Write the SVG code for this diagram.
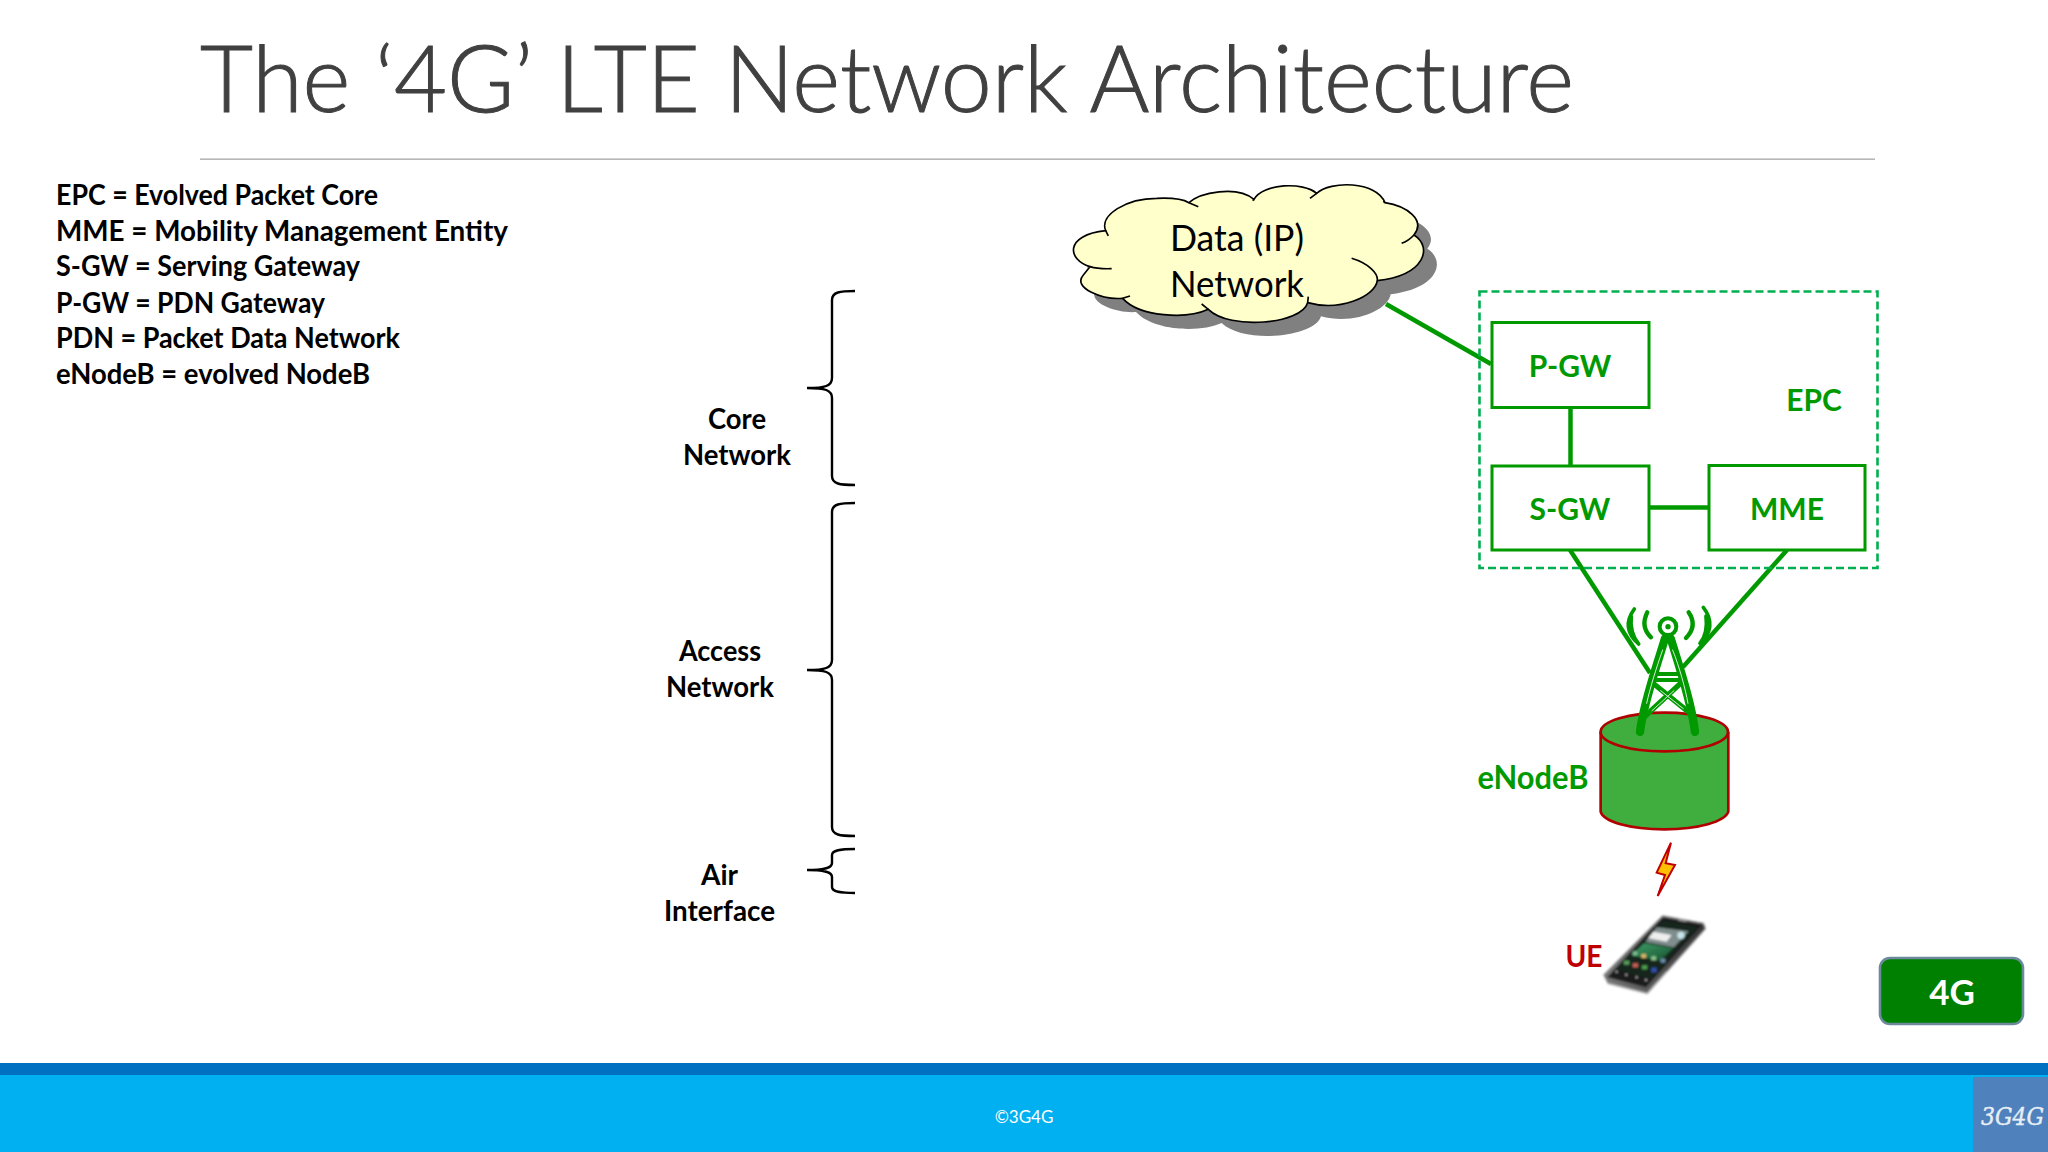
<svg xmlns="http://www.w3.org/2000/svg" width="2048" height="1152" viewBox="0 0 2048 1152">
<style>
text{font-family:"Lato","Open Sans","Liberation Sans",sans-serif}
.k{font-weight:700;font-size:29px;fill:#000}
.g{font-weight:700;font-size:30px;fill:#009a00;text-anchor:middle}
.box{fill:#fff;stroke:#009a00;stroke-width:3}
.c{fill:none;stroke:#009a00;stroke-width:4.5}
.br{fill:none;stroke:#000;stroke-width:2.4}
.tw{fill:none;stroke:#009a00;stroke-linecap:round}
.wl{fill:none;stroke:#fff;stroke-width:2.5}
.ic{stroke:none}
</style>
<defs>
<path id="cloud" d="M197,212 C177,165 260,115 350,115 C395,113 430,118 447,128 C480,98 590,75 642,118 C670,70 790,65 830,100 C870,62 1010,62 1035,128 C1100,138 1158,180 1122,225 C1178,260 1158,345 1012,362 C1005,410 900,455 803,428 C785,492 570,512 505,448 C440,478 300,472 248,415 C190,420 95,385 130,345 L150,320 C82,300 72,225 197,212Z"/>
<linearGradient id="band" x1="0" y1="0" x2="1" y2="1"><stop offset="0" stop-color="#3fa06a"/><stop offset="1" stop-color="#174f2e"/></linearGradient>
<linearGradient id="edge" x1="0" y1="0" x2="1" y2="0"><stop offset="0" stop-color="#777"/><stop offset="1" stop-color="#333"/></linearGradient>
<filter id="soft" x="-5%" y="-5%" width="110%" height="110%"><feGaussianBlur stdDeviation="2.4"/></filter>
</defs>
<rect width="2048" height="1152" fill="#fff"/>
<text id="title" x="200" y="112" font-size="92" font-weight="300" fill="#404040" stroke="#404040" stroke-width="1" textLength="1374" lengthAdjust="spacingAndGlyphs">The ‘4G’ LTE Network Architecture</text>
<rect x="200" y="158.5" width="1675" height="1.3" fill="#a6a6a6"/>
<g id="legend">
<text class="k" x="56" y="205" textLength="322" lengthAdjust="spacingAndGlyphs">EPC = Evolved Packet Core</text>
<text class="k" x="56" y="241" textLength="452" lengthAdjust="spacingAndGlyphs">MME = Mobility Management Entity</text>
<text class="k" x="56" y="276" textLength="304" lengthAdjust="spacingAndGlyphs">S-GW = Serving Gateway</text>
<text class="k" x="56" y="313" textLength="269" lengthAdjust="spacingAndGlyphs">P-GW = PDN Gateway</text>
<text class="k" x="56" y="348" textLength="344" lengthAdjust="spacingAndGlyphs">PDN = Packet Data Network</text>
<text class="k" x="56" y="384" textLength="314" lengthAdjust="spacingAndGlyphs">eNodeB = evolved NodeB</text>
</g>
<g id="brace-core">
<path class="br" d="M855,291 C840,291 832,292 832,300 V378 C832,386 825,388 807,388 C825,388 832,390 832,398 V476 C832,484 840,485 855,485"/>
<text class="k" x="708" y="429" textLength="58" lengthAdjust="spacingAndGlyphs">Core</text>
<text class="k" x="683" y="465" textLength="108" lengthAdjust="spacingAndGlyphs">Network</text>
</g>
<g id="brace-access">
<path class="br" d="M855,503 C840,503 832,504 832,512 V660 C832,668 825,670 807,670 C825,670 832,672 832,680 V827 C832,835 840,836 855,836"/>
<text class="k" x="679" y="661" textLength="82" lengthAdjust="spacingAndGlyphs">Access</text>
<text class="k" x="666" y="697" textLength="108" lengthAdjust="spacingAndGlyphs">Network</text>
</g>
<g id="brace-air">
<path class="br" d="M855,849 C840,849 832,850 832,855 V863 C832,868 825,870 807,870 C825,870 832,872 832,877 V887 C832,892 840,893 855,893"/>
<text class="k" x="701" y="885" textLength="37" lengthAdjust="spacingAndGlyphs">Air</text>
<text class="k" x="664" y="921" textLength="111" lengthAdjust="spacingAndGlyphs">Interface</text>
</g>
<g id="connectors">
<path class="c" d="M1386,304 L1491,364"/>
<path class="c" d="M1570.5,407 V466"/>
<path class="c" d="M1649,507.5 H1708"/>
<path class="c" d="M1570,550 L1650,673"/>
<path class="c" d="M1787,550 L1683,667"/>
</g>
<g id="cloud-node">
<g transform="translate(1040,160) scale(.3333)">
<use href="#cloud" transform="translate(40,41)" fill="#808080"/>
<use href="#cloud" fill="#ffffcc" stroke="#000" stroke-width="5"/>
<path fill="none" stroke="#000" stroke-width="5" d="M447,128 L475,140 M642,118 L638,122 M830,100 L810,115 M1035,128 L1030,124 M1122,225 C1110,238 1100,245 1085,250 M1012,362 C1015,340 985,310 935,295 M803,428 L805,410 M505,448 L485,432 M248,415 L270,408 M150,320 C170,326 190,327 215,326 M197,212 L205,228"/>
</g>
<text x="1237" y="251" font-size="36" text-anchor="middle" fill="#000" textLength="134" lengthAdjust="spacingAndGlyphs">Data (IP)</text>
<text x="1237" y="297" font-size="36" text-anchor="middle" fill="#000" textLength="134" lengthAdjust="spacingAndGlyphs">Network</text>
</g>
<g id="epc">
<rect x="1479.5" y="291.5" width="398" height="276.5" fill="none" stroke="#00b050" stroke-width="2.6" stroke-dasharray="8 4"/>
<text class="g" x="1814" y="411">EPC</text>
</g>
<g id="pgw"><rect class="box" x="1492" y="322.5" width="157" height="85"/><text class="g" x="1570" y="377">P-GW</text></g>
<g id="sgw"><rect class="box" x="1492" y="466" width="157" height="84"/><text class="g" x="1570" y="520">S-GW</text></g>
<g id="mme"><rect class="box" x="1709" y="465.5" width="156" height="84.5"/><text class="g" x="1787" y="520">MME</text></g>
<g id="enodeb">
<g transform="translate(1450,560) scale(.3333)">
<path d="M452,515 V755 C460,785 540,808 643,808 C745,808 825,785 835,755 V515" fill="#3fae3f" stroke="#b00000" stroke-width="8"/>
<ellipse cx="643" cy="516" rx="191" ry="58" fill="#3fae3f" stroke="#b00000" stroke-width="8"/>
<g class="tw">
<path stroke-width="16" d="M612,372 L718,458 M694,368 L586,468"/>
<path class="wl" d="M632,392 L700,446 M672,392 L606,452"/>
<path stroke-width="12" d="M608,342 H698 M606,360 H700"/>
<path class="wl" d="M622,351 H686"/>
<path stroke-width="25" d="M570,516 C580,430 620,320 645,235"/>
<path stroke-width="25" d="M735,516 C725,430 688,320 662,235"/>
<path class="wl" d="M590,430 C600,385 620,320 638,270"/>
<path class="wl" d="M714,430 C706,385 688,320 668,270"/>
<circle cx="654" cy="200" r="25" stroke-width="12" fill="#fff"/>
<circle cx="654" cy="200" r="8" fill="#009a00" stroke-width="0"/>
<path stroke-width="13" d="M592,157 C578,185 580,210 603,232 M716,157 C735,185 730,212 708,234"/>
<path stroke-width="11" d="M553,147 C525,185 530,220 566,252 M544,170 C540,200 548,232 566,252 M760,142 C790,180 785,220 750,250 M768,168 C772,200 765,232 750,250"/>
</g>
</g>
<text class="g" x="1533" y="789" style="font-size:32px" textLength="111" lengthAdjust="spacingAndGlyphs">eNodeB</text>
</g>
<g id="ue">
<g transform="translate(1500,830) scale(.3333)">
<polygon points="513,38 470,128 495,135 473,198 525,105 497,100" fill="#ffc000" stroke="#c00000" stroke-width="6"/>
<g filter="url(#soft)">
<polygon points="488,258 610,280 616,296 442,490 325,460 312,435" fill="url(#edge)" stroke="#8a8a8a" stroke-width="4" stroke-linejoin="round"/>
<polygon points="490,262 606,284 438,472 322,442" fill="#1a1a1a"/>
<polygon points="492,272 590,292 452,448 345,418" fill="#14261b"/>
<polygon points="470,292 566,304 522,352 436,336" fill="#7f8d8c"/>
<polygon points="460,305 515,315 500,335 445,325" fill="#eeeeee"/>
<circle cx="543" cy="316" r="11" fill="#c6e4ea"/>
<polygon points="432,340 520,354 480,392 394,376" fill="url(#band)"/>
<g class="ic">
<rect x="398" y="364" width="14" height="12" fill="#7fbf8f"/>
<rect x="424" y="372" width="14" height="12" fill="#d9b86a"/>
<rect x="454" y="379" width="14" height="12" fill="#8fc98f"/>
<rect x="482" y="386" width="14" height="12" fill="#6f8fb0"/>
<rect x="372" y="392" width="16" height="12" fill="#5aa05a"/>
<rect x="398" y="400" width="16" height="12" fill="#c9605a"/>
<rect x="426" y="406" width="16" height="12" fill="#4fa04f"/>
<rect x="454" y="413" width="16" height="14" fill="#3050b0"/>
<g fill="#ccc"><circle cx="350" cy="425" r="3"/><circle cx="379" cy="434" r="3"/><circle cx="410" cy="442" r="3"/><circle cx="438" cy="450" r="3"/></g>
</g>
<path d="M325,460 L442,490 L500,425" fill="none" stroke="#b0b0b0" stroke-width="4"/>
<rect x="535" y="268" width="24" height="6" fill="#999" transform="rotate(10 547 271)"/>
</g>
</g>
<text x="1584" y="967" font-size="31" font-weight="700" fill="#c00000" text-anchor="middle" textLength="37" lengthAdjust="spacingAndGlyphs">UE</text>
</g>
<g id="badge-4g">
<rect x="1880" y="958" width="143" height="66" rx="10" fill="#008000" stroke="#6d8a9c" stroke-width="2.6"/>
<text x="1952" y="1005" font-size="35" font-weight="700" fill="#fff" text-anchor="middle">4G</text>
</g>
<g id="footer">
<rect y="1063" width="2048" height="12" fill="#0070c0"/>
<rect y="1075" width="2048" height="77" fill="#00b0f0"/>
<rect x="1973" y="1077" width="75" height="75" fill="#4f81bd"/>
<text x="1024" y="1122.5" font-size="17" fill="#fff" text-anchor="middle">©3G4G</text>
<text x="1981" y="1125" font-size="24" font-style="italic" fill="#e8eef6" stroke="#e8eef6" stroke-width=".4" style="font-family:'DejaVu Serif',serif" textLength="63" lengthAdjust="spacingAndGlyphs">3G4G</text>
</g>
</svg>
